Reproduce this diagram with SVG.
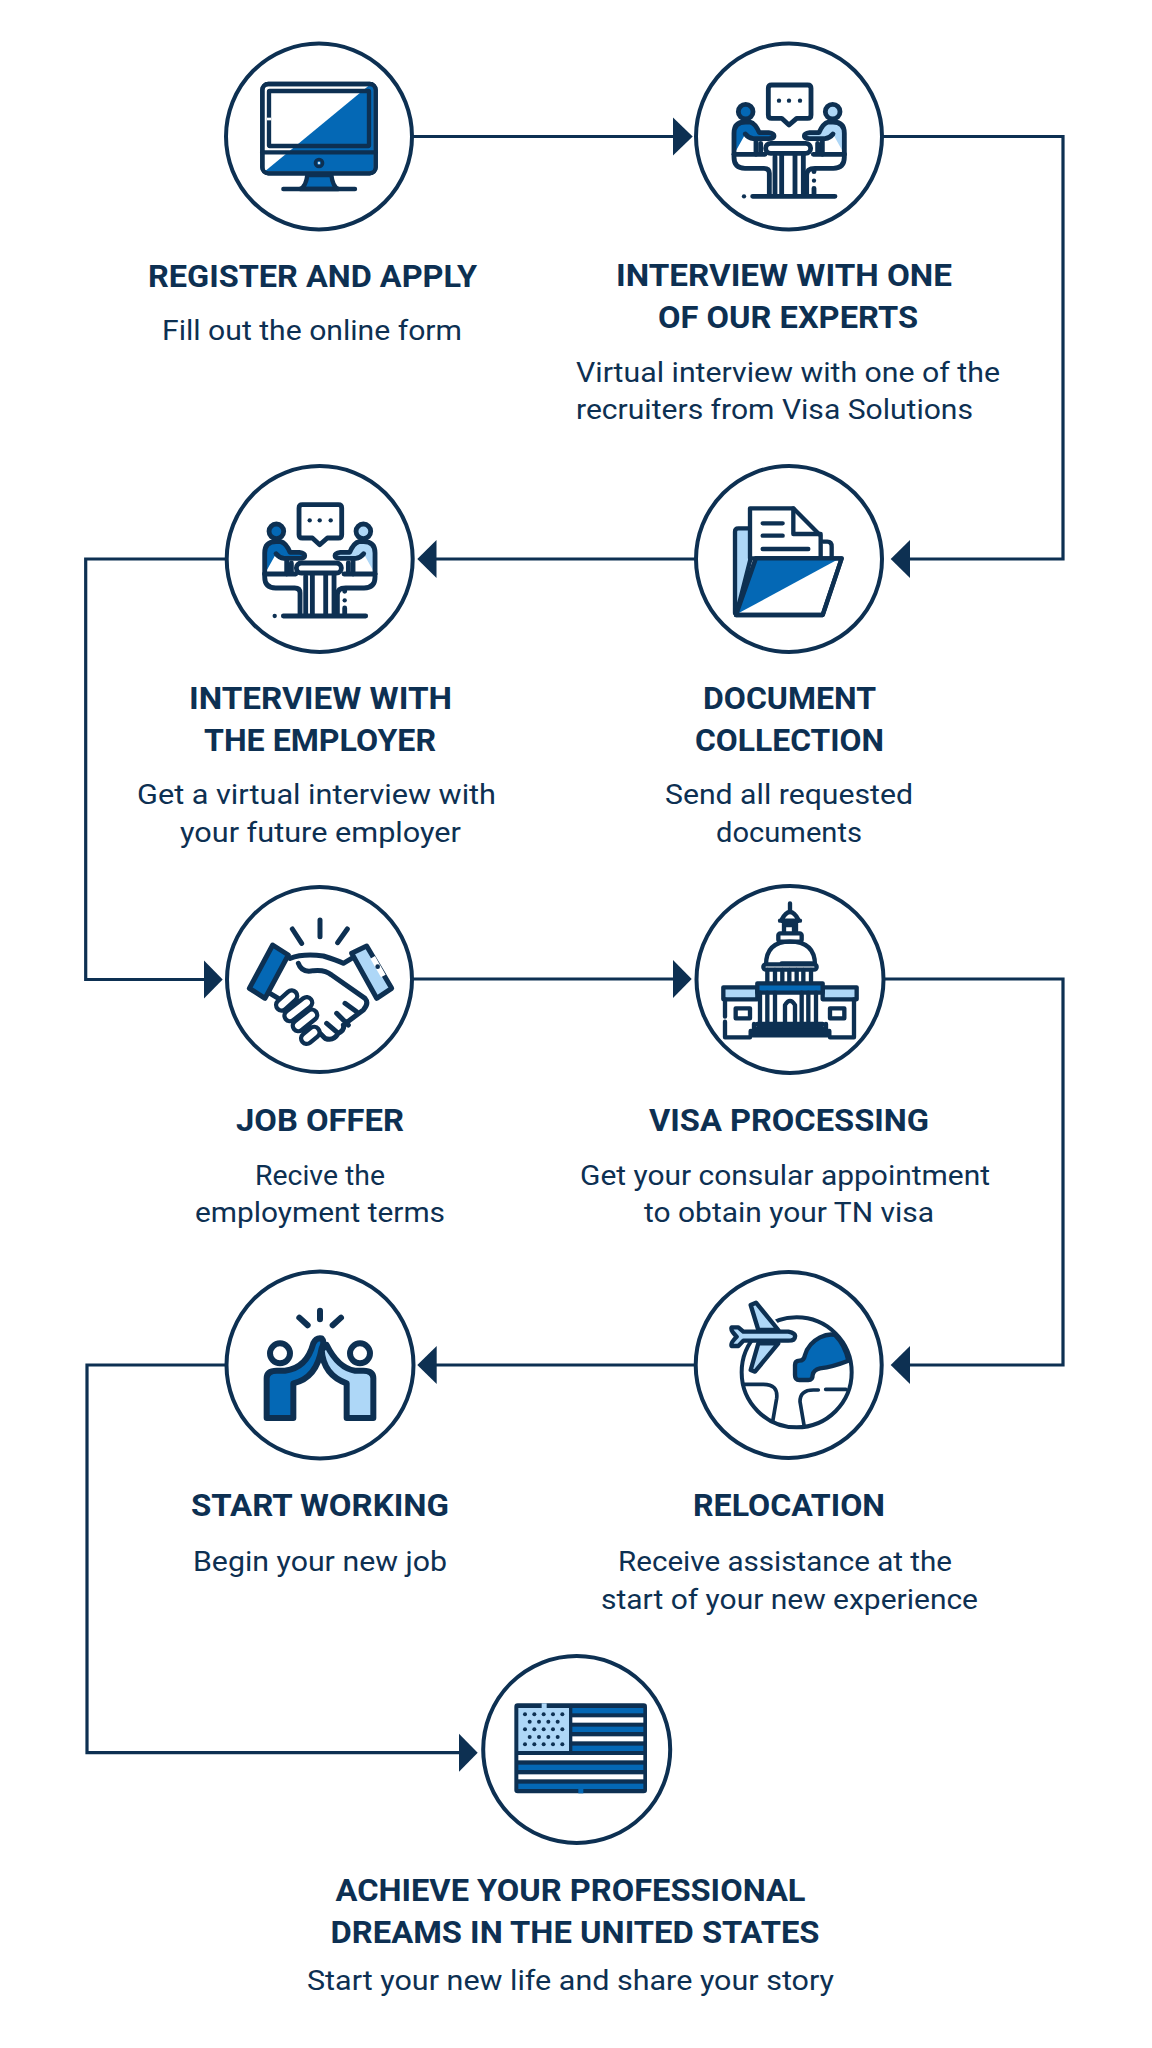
<svg xmlns="http://www.w3.org/2000/svg" xmlns:xlink="http://www.w3.org/1999/xlink" width="1152" height="2048" viewBox="0 0 1152 2048">
<style>
.ring{fill:#fff;stroke:#0d3052;stroke-width:4}
.conn{fill:none;stroke:#0d3052;stroke-width:3.2}
.head{fill:#0d3052}
.t{font-family:Roboto,"Liberation Sans",sans-serif;font-weight:700;font-size:32px;fill:#0d3052}
.s{font-family:Roboto,"Liberation Sans",sans-serif;font-weight:400;font-size:28px;fill:#0d3052}
.ic{stroke:#0d3052;stroke-width:13;stroke-linecap:round;stroke-linejoin:round;fill:none}
.b{fill:#0468b5}.l{fill:#aed7f7}.w{fill:#fff}.n{fill:#0d3052;stroke:none}
</style>
<defs>
<g id="talk" class="ic" style="stroke-width:14.5">
<path class="w" d="M305 195H413Q423 195 423 205V285Q423 295 413 295H380L357 315L335 295H305Q295 295 295 285V205Q295 195 305 195Z"/>
<g class="n"><circle cx="327" cy="242" r="6.5"/><circle cx="357" cy="242" r="6.5"/><circle cx="390" cy="242" r="6.5"/><circle cx="222" cy="529" r="6.5"/><circle cx="432" cy="482" r="6.5"/></g>
<circle class="b" cx="227" cy="275" r="22"/>
<circle class="l" cx="488" cy="275" r="22"/>
<path class="b" d="M192 403V340Q192 306 226 306H240Q256 310 268 338H296Q312 340 312 348Q312 356 296 356H250Q235 354 226 342M258 356V403Z"/>
<path class="l" d="M523 403V340Q523 306 489 306H475Q459 310 447 338H419Q403 340 403 348Q403 356 419 356H465Q480 354 489 342M457 356V403Z"/>
<path d="M272 370V400M443 370V400"/>
<path d="M192 403V412Q192 445 225 445H282Q298 445 298 460V525M523 403V412Q523 445 490 445H435Q410 445 410 465V525"/>
<path d="M192 403H285M430 403H523"/>
<rect class="w" x="287" y="370" width="135" height="30" rx="15"/>
<path d="M315 410V525M335 405V525M375 405V525M400 405V525M248 529H495M432 450V455M432 505V525"/>
</g>
</defs>

<g id="connectors">
<path class="conn" d="M412 136.5H675"/><polygon class="head" points="673,117.5 692.7,136.5 673,155.5"/>
<path class="conn" d="M882 136.5H1063V559H908"/><polygon class="head" points="910,540 890.7,559 910,578"/>
<path class="conn" d="M696 559H434"/><polygon class="head" points="436.5,540 417.3,559 436.5,578"/>
<path class="conn" d="M227 559H85.7V979.5H206"/><polygon class="head" points="204,960.5 222.7,979.5 204,998.5"/>
<path class="conn" d="M412 979H675"/><polygon class="head" points="673,960 691.7,979 673,998"/>
<path class="conn" d="M884 979H1063V1365H908"/><polygon class="head" points="910,1346 890.7,1365 910,1384"/>
<path class="conn" d="M695 1365H434"/><polygon class="head" points="436.7,1346 417.3,1365 436.7,1384"/>
<path class="conn" d="M227 1365H87V1752.7H461"/><polygon class="head" points="459,1733.7 477.7,1752.7 459,1771.7"/>
</g>

<g id="node-register">
<circle class="ring" cx="319" cy="136.5" r="93"/>
<g class="ic" transform="translate(200 20) scale(.33333)">
<rect class="w" x="187" y="192" width="340" height="268" rx="18"/>
<path class="b" d="M505 198H521V454H195Z" style="stroke:none"/>
<rect x="187" y="192" width="340" height="268" rx="18"/>
<rect x="207" y="213" width="300" height="165" rx="2"/>
<path d="M187 397H527"/>
<path d="M207 293V301" style="stroke:#fff;stroke-linecap:butt"/>
<circle class="b" cx="357" cy="429" r="11" style="stroke-width:10"/><circle cx="357" cy="429" r="3.5" style="fill:#cfe4f5;stroke:none"/>
<path class="b" d="M322 465Q318 500 300 507H415Q398 500 394 465Z"/>
<path d="M250 507H465"/>
</g>
<text class="t" x="148" y="286.5" textLength="329" lengthAdjust="spacingAndGlyphs">REGISTER AND APPLY</text>
<text class="s" x="162" y="340" textLength="300" lengthAdjust="spacingAndGlyphs">Fill out the online form</text>
</g>

<g id="node-expert-interview">
<circle class="ring" cx="789" cy="136.5" r="93"/>
<use href="#talk" xlink:href="#talk" transform="translate(670 20) scale(.33333)"/>
<text class="t" x="616" y="286" textLength="336" lengthAdjust="spacingAndGlyphs">INTERVIEW WITH ONE</text>
<text class="t" x="658" y="327.7" textLength="260" lengthAdjust="spacingAndGlyphs">OF OUR EXPERTS</text>
<text class="s" x="576" y="381.7" textLength="424" lengthAdjust="spacingAndGlyphs">Virtual interview with one of the</text>
<text class="s" x="576" y="419.3" textLength="397" lengthAdjust="spacingAndGlyphs">recruiters from Visa Solutions</text>
</g>

<g id="node-documents">
<circle class="ring" cx="789" cy="559" r="93"/>
<g class="ic" transform="translate(670 450) scale(.33333)">
<path class="l" d="M195 490V245Q195 235 205 235H242V325L205 470Z"/>
<path class="w" d="M240 325V175H370L452 257V325Z"/>
<path d="M370 175V252H452"/>
<path d="M278 220H338M278 257H338M278 297H415"/>
<path class="w" d="M455 275H472Q485 275 485 290V325"/>
<path class="w" d="M258 325H515L458 495H198Z"/>
<path class="b" d="M258 325H510L205 490Z" style="stroke:none"/>
<path d="M258 325H515L458 495H198Z"/>
</g>
<text class="t" x="703" y="709" textLength="173" lengthAdjust="spacingAndGlyphs">DOCUMENT</text>
<text class="t" x="695" y="751" textLength="189" lengthAdjust="spacingAndGlyphs">COLLECTION</text>
<text class="s" x="665" y="804" textLength="248" lengthAdjust="spacingAndGlyphs">Send all requested</text>
<text class="s" x="716" y="842" textLength="146" lengthAdjust="spacingAndGlyphs">documents</text>
</g>

<g id="node-employer-interview">
<circle class="ring" cx="319.7" cy="559" r="93"/>
<use href="#talk" xlink:href="#talk" transform="translate(200.7 439.7) scale(.33333)"/>
<text class="t" x="189" y="709" textLength="263" lengthAdjust="spacingAndGlyphs">INTERVIEW WITH</text>
<text class="t" x="204" y="751" textLength="232" lengthAdjust="spacingAndGlyphs">THE EMPLOYER</text>
<text class="s" x="137" y="804" textLength="359" lengthAdjust="spacingAndGlyphs">Get a virtual interview with</text>
<text class="s" x="180" y="842" textLength="281" lengthAdjust="spacingAndGlyphs">your future employer</text>
</g>

<g id="node-job-offer">
<circle class="ring" cx="319.5" cy="979.5" r="92.5"/>
<g class="ic" style="stroke-width:15" transform="translate(210 870) scale(.33333)">
<path d="M330 150V200M247 177L275 220M412 177L383 218"/>
<path d="M240 265Q280 250 340 258Q380 270 400 280L425 265M180 370L205 385"/>
<path d="M265 280Q275 310 310 302Q345 298 365 315L465 385Q478 400 460 420L400 465Q405 480 385 490Q370 515 345 505L330 490M405 400L440 425M380 430L415 465M350 460L385 490"/>
<path class="b" d="M188 225L235 255L165 385L118 355Z"/>
<path class="l" d="M470 228L425 250L500 385L545 355Z"/>
<path d="M488 262L520 318" style="stroke:#fff;stroke-width:16;stroke-linecap:butt"/>
<circle class="n" cx="503" cy="290" r="7"/>
<g style="stroke-width:46"><path d="M215 405L245 378M240 437L290 398M265 467L305 435M290 505L312 487"/></g>
<g style="stroke:#fff;stroke-width:20"><path d="M215 405L245 378M240 437L290 398M265 467L305 435M290 505L312 487"/></g>
</g>
<text class="t" x="236" y="1131" textLength="168" lengthAdjust="spacingAndGlyphs">JOB OFFER</text>
<text class="s" x="255" y="1185" textLength="130" lengthAdjust="spacingAndGlyphs">Recive the</text>
<text class="s" x="195" y="1222" textLength="250" lengthAdjust="spacingAndGlyphs">employment terms</text>
</g>

<g id="node-visa">
<circle class="ring" cx="790" cy="979.5" r="93.5"/>
<g class="ic" transform="translate(680 870) scale(.33333)">
<path class="l" d="M130 352H232V388H130ZM428 352H530V388H428Z"/>
<path d="M135 388V440M135 455V502H210M522 388V502H450"/>
<rect x="167" y="415" width="43" height="30"/><rect x="450" y="415" width="43" height="30"/>
<path d="M330 100V125M303 152Q330 100 357 152M300 152H360M312 155V190M348 155V190M318 165H342V190"/>
<rect class="w" x="295" y="190" width="70" height="25" rx="6"/>
<path d="M258 285Q258 215 330 215Q405 215 405 285M305 280H395"/>
<rect class="w" x="250" y="283" width="160" height="16" rx="8"/>
<path d="M262 300V340M285 300V340M307 300V340M328 300V340M350 300V340M370 300V340M393 300V340"/>
<rect class="b" x="232" y="340" width="196" height="28"/>
<path d="M240 368V455M262 368V455M285 368V455M365 368V455M385 368V455M408 368V455"/>
<path d="M315 455V405Q330 380 345 405V455"/>
<path d="M232 462H428M222 462V475M438 462V475M222 475H438"/>
<rect class="w" x="212" y="483" width="236" height="13"/>
</g>
<text class="t" x="649" y="1131" textLength="280" lengthAdjust="spacingAndGlyphs">VISA PROCESSING</text>
<text class="s" x="580" y="1185" textLength="410" lengthAdjust="spacingAndGlyphs">Get your consular appointment</text>
<text class="s" x="644" y="1222" textLength="290" lengthAdjust="spacingAndGlyphs">to obtain your TN visa</text>
</g>

<g id="node-relocation">
<circle class="ring" cx="788.7" cy="1365" r="93"/>
<g class="ic" transform="translate(680 1250) scale(.33333)">
<circle cx="350" cy="367" r="165" style="stroke-width:12"/>
<path class="b" d="M375 315Q385 280 420 262Q445 250 465 255Q495 285 505 332Q460 350 420 355Q400 360 398 375Q398 390 385 390H358Q345 390 345 375V345Q345 332 358 332Q372 332 375 315Z"/>
<path d="M190 403H250Q295 403 290 445L278 515M498 418H437M415 420H400Q360 420 360 455L372 525" style="stroke-width:11"/>
<g style="stroke:#fff;stroke-width:24"><path d="M212 165L228 158L295 240H235Z"/><path d="M235 280H295L225 365L212 360Z"/></g>
<path class="l" d="M212 165L228 158L295 240H235Z"/>
<path class="l" d="M235 280H295L225 365L212 360Z"/>
<path class="l" d="M155 232H175L190 245H325Q348 250 345 260Q345 272 325 272H190L175 288H155Q150 280 170 260Q150 240 155 232Z"/>
</g>
<text class="t" x="693" y="1516" textLength="192" lengthAdjust="spacingAndGlyphs">RELOCATION</text>
<text class="s" x="618" y="1571" textLength="334" lengthAdjust="spacingAndGlyphs">Receive assistance at the</text>
<text class="s" x="601" y="1609" textLength="377" lengthAdjust="spacingAndGlyphs">start of your new experience</text>
</g>

<g id="node-start">
<circle class="ring" cx="320" cy="1365" r="93.5"/>
<g class="ic" style="stroke-width:18" transform="translate(210 1250) scale(.33333)">
<path d="M330 182V208M268 203L293 226M393 203L368 226"/>
<circle class="w" cx="210" cy="310" r="30"/><circle class="w" cx="450" cy="310" r="30"/>
<path class="l" d="M490 504V385Q490 362 460 362H435Q385 355 350 285L335 300Q340 375 410 400V504Z"/>
<path class="b" d="M170 504V385Q170 362 200 362H225Q290 355 310 280Q318 262 335 265Q345 275 335 295Q320 385 250 400V504Z"/>
</g>
<text class="t" x="191" y="1516" textLength="258" lengthAdjust="spacingAndGlyphs">START WORKING</text>
<text class="s" x="193" y="1571" textLength="254" lengthAdjust="spacingAndGlyphs">Begin your new job</text>
</g>

<g id="node-achieve">
<circle class="ring" cx="576.7" cy="1749.5" r="93.5"/>
<g transform="translate(450 1640) scale(.33333)">
<rect class="n" x="193" y="190" width="398" height="270" rx="10"/>
<rect class="l" x="205" y="204" width="152" height="129"/>
<g class="b"><rect x="367" y="204" width="213" height="16"/><rect x="367" y="260" width="213" height="16"/><rect x="367" y="317" width="213" height="16"/><rect x="205" y="374" width="375" height="16"/><rect x="205" y="431" width="375" height="16"/></g>
<g class="w"><rect x="367" y="232" width="213" height="16"/><rect x="367" y="289" width="213" height="15"/><rect x="205" y="345" width="375" height="16"/><rect x="205" y="403" width="375" height="15"/></g>
<rect class="l" x="275" y="190" width="15" height="14"/><rect class="b" x="385" y="447" width="15" height="13"/>
<g class="n">
<circle cx="225" cy="223" r="6"/><circle cx="253" cy="223" r="6"/><circle cx="281" cy="223" r="6"/><circle cx="309" cy="223" r="6"/><circle cx="337" cy="223" r="6"/>
<circle cx="239" cy="245" r="6"/><circle cx="267" cy="245" r="6"/><circle cx="295" cy="245" r="6"/><circle cx="323" cy="245" r="6"/>
<circle cx="225" cy="268" r="6"/><circle cx="253" cy="268" r="6"/><circle cx="281" cy="268" r="6"/><circle cx="309" cy="268" r="6"/><circle cx="337" cy="268" r="6"/>
<circle cx="239" cy="291" r="6"/><circle cx="267" cy="291" r="6"/><circle cx="295" cy="291" r="6"/><circle cx="323" cy="291" r="6"/>
<circle cx="225" cy="313" r="6"/><circle cx="253" cy="313" r="6"/><circle cx="281" cy="313" r="6"/><circle cx="309" cy="313" r="6"/><circle cx="337" cy="313" r="6"/>
</g>
</g>
<text class="t" x="335.5" y="1901" textLength="470" lengthAdjust="spacingAndGlyphs">ACHIEVE YOUR PROFESSIONAL</text>
<text class="t" x="330.5" y="1942.7" textLength="489" lengthAdjust="spacingAndGlyphs">DREAMS IN THE UNITED STATES</text>
<text class="s" x="307" y="1990" textLength="527" lengthAdjust="spacingAndGlyphs">Start your new life and share your story</text>
</g>
</svg>
